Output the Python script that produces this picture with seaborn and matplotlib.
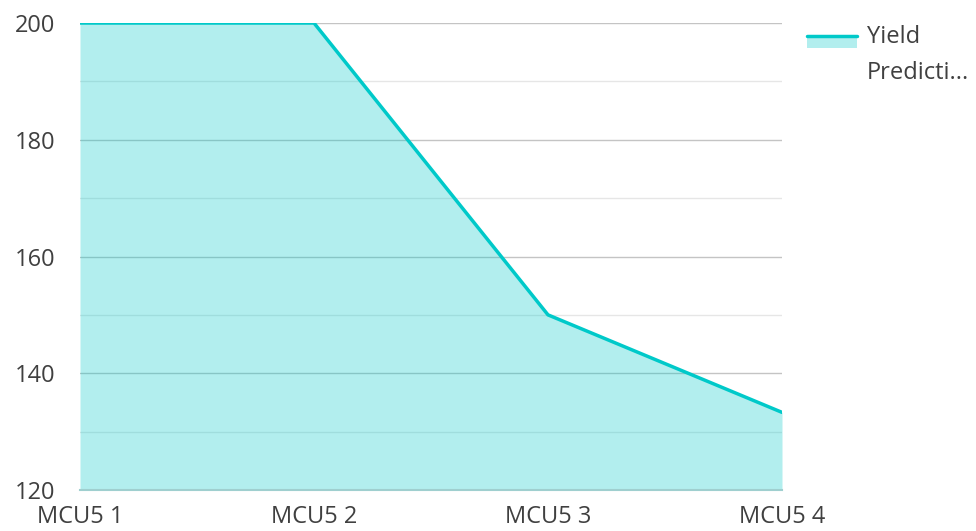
import matplotlib
matplotlib.use('Agg')
import matplotlib.pyplot as plt
import seaborn as sns
import pandas as pd
from matplotlib.patches import Patch, Rectangle
from matplotlib.lines import Line2D
from matplotlib.legend_handler import HandlerBase

# NOTE: data
categories = ['MCU5 1', 'MCU5 2', 'MCU5 3', 'MCU5 4']
yield_prediction = [200, 200, 150, 133.3]
y_ticks = [120, 140, 160, 180, 200]
y_minor = [130, 150, 170, 190]
legend_lines = ['Yield', 'Predicti...']

line_color = '#00c9c9'
fill_color = '#00c9c9'
text_color = '#404040'


class AreaHandler(HandlerBase):
    # patch with the line on top, like the area legend key
    def create_artists(self, legend, orig_handle, xdescent, ydescent, width, height, fontsize, trans):
        top = -ydescent + height * 0.45
        bottom = -ydescent - height * 0.3
        rect = Rectangle((-xdescent, bottom), width, top - bottom,
                         facecolor=fill_color, alpha=0.3, lw=0, transform=trans)
        line = Line2D([-xdescent, -xdescent + width], [top, top], color=line_color, lw=2.5, transform=trans)
        return [rect, line]


sns.set_style('white')
plt.rcParams['font.family'] = ['Open Sans', 'DejaVu Sans']

df = pd.DataFrame({'pos': range(len(categories)), 'value': yield_prediction})

fig = plt.figure(figsize=(9.76, 5.31), dpi=100)
ax = fig.add_axes([80 / 976, 1 - 490 / 531, 702 / 976, 467 / 531])

ax.fill_between(df['pos'], df['value'], 120, color=fill_color, alpha=0.3, lw=0, zorder=2)
sns.lineplot(data=df, x='pos', y='value', color=line_color, lw=2.5, ax=ax, zorder=3)

ax.set_xlim(0, len(categories) - 1)
ax.set_ylim(120, 200)
ax.set_xticks(range(len(categories)))
ax.set_xticklabels(categories)
ax.set_yticks(y_ticks)
ax.set_yticks(y_minor, minor=True)
ax.grid(True, which='major', axis='y', color='#c4c4c4', lw=1, zorder=1)
ax.grid(True, which='minor', axis='y', color='#e6e6e6', lw=1, zorder=1)
ax.set_axisbelow(True)
ax.set_xlabel('')
ax.set_ylabel('')
for name, s in ax.spines.items():
    s.set_visible(name == 'bottom')
ax.spines['bottom'].set_color('#9fcfcf')
ax.spines['bottom'].set_linewidth(1.5)
ax.tick_params(axis='both', which='both', length=0, labelsize=17, labelcolor=text_color)
ax.tick_params(axis='y', pad=18)
ax.tick_params(axis='x', pad=11)

area_key = Patch()
blank_key = Patch(visible=False)
leg = fig.legend([area_key, blank_key], legend_lines,
                 handler_map={area_key: AreaHandler()},
                 loc='upper left', bbox_to_anchor=(807 / 976, 1 - 25 / 531), frameon=False,
                 borderpad=0, borderaxespad=0, fontsize=17, handlelength=2.1,
                 handletextpad=0.45, labelspacing=0.5, labelcolor=text_color)

fig.savefig('out.png', dpi=100)
